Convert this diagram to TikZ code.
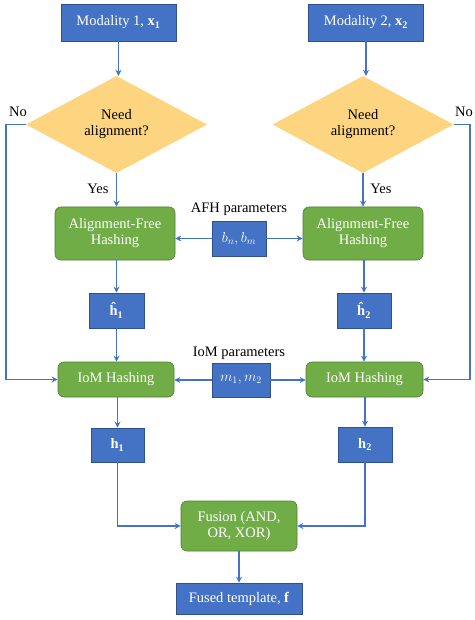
\documentclass[tikz,border=0pt]{standalone}
\usepackage{fontspec}
\setmainfont{Liberation Serif}
\usetikzlibrary{arrows.meta,shapes.geometric}
\definecolor{boxblue}{HTML}{4472C4}
\definecolor{boxblueb}{HTML}{2F528F}
\definecolor{boxgreen}{HTML}{70AD47}
\definecolor{boxgreenb}{HTML}{507E32}
\definecolor{diafill}{HTML}{FDD480}
\begin{document}
\begin{tikzpicture}[x=1pt,y=-1pt,
  every node/.style={font=\fontsize{14.5}{16}\selectfont},
  bluebox/.style={draw=boxblueb,fill=boxblue,text=white,inner sep=0pt,line width=0.6pt},
  greenbox/.style={draw=boxgreenb,fill=boxgreen,text=white,rounded corners=6pt,inner sep=0pt,align=center,line width=0.6pt},
  decision/.style={diamond,fill=diafill,draw=none,inner sep=0pt,aspect=1.87,minimum width=181pt,minimum height=97pt,align=center},
  lbl/.style={text=black,inner sep=0pt},
  conn/.style={draw=boxblue,line width=1.6pt,-{Stealth[length=6pt,width=6pt]}},
  line/.style={draw=boxblue,line width=1.6pt}
]
\useasboundingbox (0,0) rectangle (474,620);
\fill[white] (0,0) rectangle (474,620);

% top boxes
\node[bluebox,minimum width=115pt,minimum height=37pt] (m1) at (118.5,22.5) {Modality 1, $\mathbf{x}_{\mathbf{1}}$};
\node[bluebox,minimum width=115pt,minimum height=37pt] (m2) at (366,22.5) {Modality 2, $\mathbf{x}_{\mathbf{2}}$};

% diamonds
\node[decision] (d1) at (116.5,124.5) {Need\\alignment?};
\node[decision] (d2) at (363,124.5) {Need\\alignment?};

% AFH
\node[greenbox,minimum width=120pt,minimum height=53pt] (a1) at (115,233.5) {Alignment-Free\\Hashing};
\node[greenbox,minimum width=120pt,minimum height=53pt] (a2) at (363,233.5) {Alignment-Free\\Hashing};
\node[bluebox,minimum width=54pt,minimum height=35pt] (bp) at (239,238.5) {$b_n, b_m$};
\node[lbl] (afhl) at (239,209) {AFH parameters};

% hat h
\node[bluebox,minimum width=55pt,minimum height=35pt] (hh1) at (116.5,310.5) {\textbf{ĥ}$_{\mathbf{1}}$};
\node[bluebox,minimum width=54pt,minimum height=35pt] (hh2) at (364,310.5) {\textbf{ĥ}$_{\mathbf{2}}$};

% IoM
\node[greenbox,minimum width=116pt,minimum height=35pt] (i1) at (116,379.5) {IoM Hashing};
\node[greenbox,minimum width=117pt,minimum height=35pt] (i2) at (364.5,379.5) {IoM Hashing};
\node[bluebox,minimum width=58pt,minimum height=34pt] (mp) at (241,380) {$m_1, m_2$};
\node[lbl] (ioml) at (239,353) {IoM parameters};

% h
\node[bluebox,minimum width=53pt,minimum height=34pt] (h1) at (117.5,445) {$\mathbf{h}_{\mathbf{1}}$};
\node[bluebox,minimum width=54pt,minimum height=35pt] (h2) at (365,444.5) {$\mathbf{h}_{\mathbf{2}}$};

% fusion
\node[greenbox,minimum width=116pt,minimum height=50pt] (fu) at (239,526) {Fusion (AND,\\OR, XOR)};
\node[bluebox,minimum width=126pt,minimum height=31pt] (ft) at (239,598.5) {Fused template, \textbf{f}};

% labels
\node[lbl] (no1) at (18,112) {No};
\node[lbl,anchor=west] (no2) at (455,112) {No};
\node[lbl] (y1) at (98,189) {Yes};
\node[lbl] (y2) at (381,189) {Yes};

\coordinate (cl1) at (6,124.5);
\coordinate (cl2) at (6,379.5);
\coordinate (cr1) at (470,124.5);
\coordinate (cr2) at (470,379.5);

% connectors
\draw[conn] (m1) -- (m1 |- d1.north);
\draw[conn] (m2) -- (m2 |- d2.north);
\draw[conn] (d1.south) -- (a1.north -| d1.south);
\draw[conn] (d2.south) -- (a2.north -| d2.south);
\draw[conn] (d1.west) -- (cl1) -- (cl2) -- (i1.west);
\draw[conn] (d2.east) -- (cr1) -- (cr2) -- (i2.east);
\draw[conn] (bp) -- (a1.east |- bp);
\draw[conn] (bp) -- (a2.west |- bp);
\draw[conn] (a1.south -| hh1) -- (hh1.north);
\draw[conn] (a2.south -| hh2) -- (hh2.north);
\draw[conn] (hh1) -- (i1.north -| hh1);
\draw[conn] (hh2) -- (i2.north -| hh2);
\draw[conn] (mp) -- (i1.east |- mp);
\draw[conn] (mp) -- (i2.west |- mp);
\draw[conn] (i1.south -| h1) -- (h1.north);
\draw[conn] (i2.south -| h2) -- (h2.north);
\draw[conn] (h1) |- (fu.west);
\draw[conn] (h2) |- (fu.east);
\draw[conn] (fu) -- (ft);
\end{tikzpicture}
\end{document}
